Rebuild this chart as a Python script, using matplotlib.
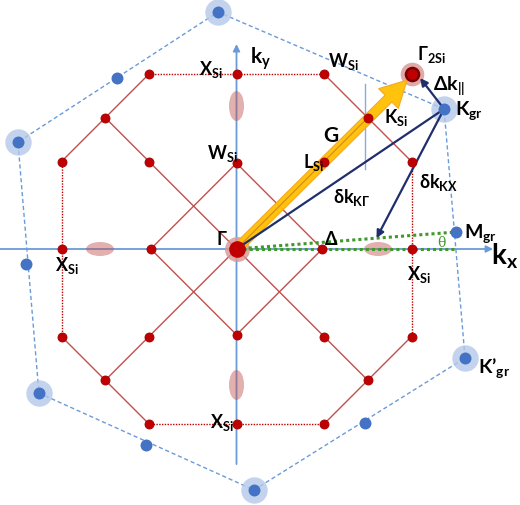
import matplotlib
matplotlib.use("Agg")
import matplotlib.pyplot as plt
from matplotlib.patches import Ellipse
from matplotlib.transforms import IdentityTransform

plt.rcParams['font.family'] = ['Lato', 'DejaVu Sans']
plt.rcParams['font.weight'] = 'bold'
plt.rcParams['mathtext.fontset'] = 'custom'
plt.rcParams['mathtext.rm'] = 'Lato:bold'
plt.rcParams['mathtext.it'] = 'Lato:italic:bold'
plt.rcParams['mathtext.bf'] = 'Lato:bold'

# ---- data (units of 2*pi/a, Gamma at origin) ----
si_X_x = [0, 1, 0, -1]
si_X_y = [1, 0, -1, 0]
si_corner_x = [-0.5, 0.5, 1, 1, 0.5, -0.5, -1, -1]
si_corner_y = [1, 1, 0.5, -0.5, -1, -1, -0.5, 0.5]
si_K_x = [0.75, 0.75, -0.75, -0.75]
si_K_y = [0.75, -0.75, -0.75, 0.75]
si_L_x = [0.5, 0.5, -0.5, -0.5]
si_L_y = [0.5, -0.5, -0.5, 0.5]
si_W_x = [0, 0.49, 0, -0.49]
si_W_y = [0.49, 0, -0.49, 0]
gamma2 = (1.0, 1.0)

gr_K_x = [1.186, -0.106, -1.249, -1.129, 0.10, 1.306]
gr_K_y = [0.80, 1.354, 0.611, -0.823, -1.377, -0.623]
gr_M_x = [-0.683, -1.203, -0.517, 0.734, 1.254]
gr_M_y = [0.977, -0.086, -1.12, -0.994, 0.097]

ell_x = [0, 0, -0.78, 0.809]
ell_y = [0.817, -0.777, 0, 0]
ell_w = [0.086, 0.086, 0.16, 0.16]
ell_h = [0.171, 0.171, 0.08, 0.08]

dkx_tip = (0.80, 0.062)
dk_par_tip = (1.049, 0.977)
G_tip = (0.975, 0.965)

W, H = 520, 506
fig = plt.figure(figsize=(W / 100, H / 100), dpi=100)
ax = fig.add_axes([0, 0, 1, 1])
ax.set_xlim(-236.5 / 175, (W - 236.5) / 175)
ax.set_ylim(-(H - 250) / 175, 250 / 175)
ax.set_aspect('equal')
ax.axis('off')

red = '#c00000'
redline = '#c0504d'
blue = '#4472c4'
blueline = '#6a9bd8'
navy = '#1f2f6b'
green = '#3f9a2a'

# graphene hexagon
hx = gr_K_x + [gr_K_x[0]]
hy = gr_K_y + [gr_K_y[0]]
ax.plot(hx, hy, color=blueline, lw=1.0, ls=(0, (3, 2)), zorder=1)

# axes arrows
ax.annotate('', xy=(1.466, 0), xytext=(-1.351, 0),
            arrowprops=dict(arrowstyle='-|>', color=blueline, lw=1.3,
                            mutation_scale=10, shrinkA=0, shrinkB=0), zorder=2)
ax.annotate('', xy=(0, 1.171), xytext=(0, -1.229),
            arrowprops=dict(arrowstyle='-|>', color=blueline, lw=1.3,
                            mutation_scale=10, shrinkA=0, shrinkB=0), zorder=2)
ax.plot([0.734, 0.734], [0.457, 0.943], color='#8eaadb', lw=1.0, zorder=2)

# Si BZ section lines
cx, cy = si_corner_x, si_corner_y
for i in range(0, 8, 2):
    j = (i + 1) % 8
    ax.plot([cx[i], cx[j]], [cy[i], cy[j]], color=red, lw=1.0, ls=(0, (1, 1)), zorder=3)
for i in range(1, 8, 2):
    j = (i + 1) % 8
    ax.plot([cx[i], cx[j]], [cy[i], cy[j]], color=redline, lw=1.0, zorder=3)
ax.plot([si_K_x[3], si_K_x[1]], [si_K_y[3], si_K_y[1]], color=redline, lw=1.0, zorder=3)
ax.plot([si_K_x[2], si_K_x[0]], [si_K_y[2], si_K_y[0]], color=redline, lw=1.0, zorder=3)
ax.plot(si_W_x + [si_W_x[0]], si_W_y + [si_W_y[0]], color=redline, lw=1.0, zorder=3)

for x, y, w, h in zip(ell_x, ell_y, ell_w, ell_h):
    ax.add_patch(Ellipse((x, y), w, h, facecolor='#c0504d', alpha=0.45, edgecolor='none', zorder=2.5))

# halos
ax.plot(gr_K_x, gr_K_y, 'o', ms=19, color='#b4c8ea', alpha=0.8, mec='none', zorder=4)
ax.plot([0], [0], 'o', ms=18, color='#d99594', alpha=0.8, mec='none', zorder=4)
ax.plot([gamma2[0]], [gamma2[1]], 'o', ms=17, color='#d99594', alpha=0.8, mec='none', zorder=4)

# G arrow
ax.arrow(0, 0, G_tip[0], G_tip[1], width=0.055, head_width=0.16, head_length=0.15,
         length_includes_head=True, fc='#ffc000', ec='#f5a623', lw=0.8, alpha=0.95, zorder=5)
ax.plot([0, si_K_x[0]], [0, si_K_y[0]], color='#c8743a', lw=0.8, alpha=0.7, zorder=5.2)

# green dotted
ax.plot([0, gr_M_x[4] - 0.025], [0, gr_M_y[4] * (gr_M_x[4] - 0.025) / gr_M_x[4]],
        color=green, lw=2.2, ls=(0, (1, 1)), zorder=6)
ax.plot([0, 1.24], [0, 0], color=green, lw=2.2, ls=(0, (1, 1)), zorder=6)

# navy lines
Kg = (gr_K_x[0], gr_K_y[0])
ax.plot([0, Kg[0]], [0, Kg[1]], color=navy, lw=1.6, zorder=6)
for tip in (dk_par_tip, dkx_tip):
    ax.annotate('', xy=tip, xytext=Kg,
                arrowprops=dict(arrowstyle='-|>', color=navy, lw=1.6,
                                mutation_scale=11, shrinkA=0, shrinkB=0), zorder=6)

# dots
sx = si_X_x + si_corner_x + si_K_x + si_L_x + si_W_x
sy = si_X_y + si_corner_y + si_K_y + si_L_y + si_W_y
ax.plot(sx, sy, 'o', ms=6.5, color=red, mec='#a00000', mew=0.6, zorder=7)
ax.plot(gr_K_x + gr_M_x, gr_K_y + gr_M_y, 'o', ms=8.6, color=blue, mec='none', zorder=7)
ax.plot([0], [0], 'o', ms=12, color=red, mec='none', zorder=7)
ax.plot([gamma2[0]], [gamma2[1]], 'o', ms=9.4, color=red, mec='#7a0000', mew=1.8, zorder=7)

tr = IdentityTransform()


def lab(px, py, s, size=13, **kw):
    ax.text(px, H - py, s, transform=tr, ha='left', va='baseline',
            fontsize=size, color='black', zorder=10, **kw)


lab(199, 75, r'X$_{\mathrm{Si}}$')
lab(328, 67, r'W$_{\mathrm{Si}}$')
lab(250, 64, r'k$_{\mathrm{y}}$', size=15)
lab(417, 60, r'Γ$_{\mathrm{2Si}}$')
lab(433, 90, r'Δk$_{\mathrm{||}}$', size=14)
lab(455, 115, r'K$_{\mathrm{gr}}$', size=14)
lab(384, 123, r'K$_{\mathrm{Si}}$')
lab(323, 142, 'G', size=15)
lab(303, 168, r'L$_{\mathrm{Si}}$')
lab(207, 159, r'W$_{\mathrm{Si}}$')
lab(333, 203, r'δk$_{\mathrm{K\Gamma}}$')
lab(419, 188, r'δk$_{\mathrm{KX}}$')
lab(325, 245, 'Δ')
lab(216, 245, 'Γ')
ax.text(437, H - 247, 'θ', transform=tr, ha='left', va='baseline', fontsize=10,
        color=green, family='DejaVu Serif', weight='normal', zorder=10)
lab(464, 238, r'M$_{\mathrm{gr}}$', size=14)
lab(491, 265, r'k$_{\mathrm{x}}$', size=20)
lab(407, 280, r'X$_{\mathrm{Si}}$')
lab(55, 271, r'X$_{\mathrm{Si}}$')
lab(210, 428, r'X$_{\mathrm{Si}}$')
lab(478, 373, r'K’$_{\mathrm{gr}}$', size=14)

fig.savefig('out.png', dpi=100)
